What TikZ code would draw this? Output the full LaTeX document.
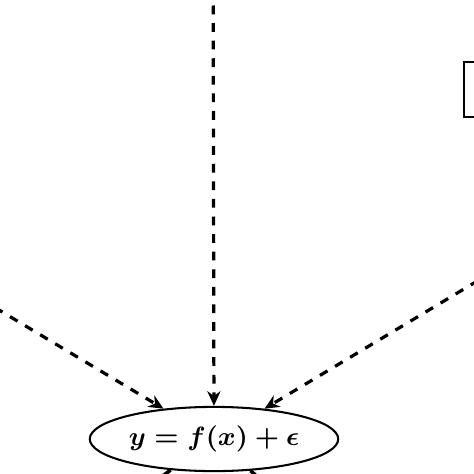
\documentclass[tikz,border=0pt]{standalone}
\usetikzlibrary{shapes.geometric,arrows.meta}

\begin{document}
\begin{tikzpicture}[
    x=0.012cm, y=-0.012cm,
    oval/.style={draw, ellipse, line width=0.7pt, minimum width=2.98cm, minimum height=0.77cm, inner sep=0pt, font=\fontsize{9.4}{11}\selectfont\boldmath},
    boxed/.style={draw, rectangle, line width=0.7pt, minimum width=1cm, minimum height=0.66cm, anchor=west},
    dashlink/.style={-{Stealth[length=5pt,width=4.5pt]}, dashed, line width=1.1pt},
  ]
  \useasboundingbox (0,0) rectangle (474,474);
  \clip (0,0) rectangle (474,474);
  \node[oval] (model) at (214,439) {$y = f(x) + \epsilon$};
  \node[boxed] (side) at (463,89.5) {};
  % sources outside the frame
  \coordinate (top) at (213,-100);
  \coordinate (left) at (-186,199);
  \coordinate (right) at (614,199);
  \coordinate (outa) at (30,571);
  \coordinate (outb) at (366,571);
  \draw[dashlink] (top) -- (model);
  \draw[dashlink] (left) -- (model);
  \draw[dashlink] (right) -- (model);
  \draw[line width=1.2pt] (model) -- (outa);
  \draw[line width=1.2pt] (model) -- (outb);
\end{tikzpicture}
\end{document}
